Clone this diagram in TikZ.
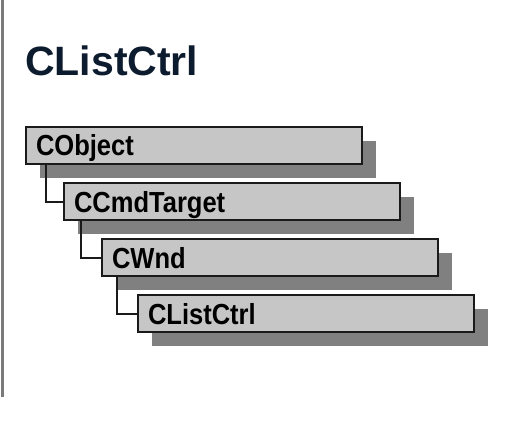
\documentclass[tikz,border=0pt]{standalone}
\usepackage{fontspec}
\setmainfont{Liberation Sans}
\newfontfamily\classfont[FakeStretch=0.88]{Liberation Sans}
\usepackage{tikz}
\definecolor{mfcTitle}{HTML}{0D1B2E}
\definecolor{mfcBox}{HTML}{C6C6C6}
\definecolor{mfcShadow}{HTML}{808080}
\definecolor{mfcEdge}{HTML}{1A1A1A}
\definecolor{mfcRule}{HTML}{7A7A7A}
\usetikzlibrary{shadows}

\tikzset{
  classbox/.style={draw=mfcEdge, line width=2pt, fill=mfcBox, anchor=north west,
    minimum width=336pt, minimum height=37pt, text width=316pt, align=left,
    inner xsep=10pt, inner ysep=0pt, text height=21pt, text depth=0pt,
    font=\classfont\fontsize{29}{31}\selectfont\bfseries,
    drop shadow={shadow xshift=14pt, shadow yshift=-14pt, fill=mfcShadow, opacity=1}},
  hierlink/.style={draw=mfcEdge, line width=2pt}
}

\begin{document}
\begin{tikzpicture}[x=1pt,y=-1pt]
  \useasboundingbox (0,0) rectangle (527,422);
  \draw[mfcRule, line width=3pt] (2,0) -- (2,397);
  \node[anchor=base west, inner sep=0pt, text=mfcTitle, font=\fontsize{41}{44}\selectfont\bfseries] (title) at (25,76) {CListCtrl};
  % class hierarchy
  \node[classbox] (obj) at (25,126) {CObject};
  \node[classbox] (cmd) at (63,182) {CCmdTarget};
  \node[classbox] (wnd) at (101,238) {CWnd};
  \node[classbox] (lst) at (137,294) {CListCtrl};
  \draw[hierlink] ([xshift=21pt]obj.south west) |- (cmd.west);
  \draw[hierlink] ([xshift=18pt]cmd.south west) |- (wnd.west);
  \draw[hierlink] ([xshift=16pt]wnd.south west) |- (lst.west);
\end{tikzpicture}
\end{document}
